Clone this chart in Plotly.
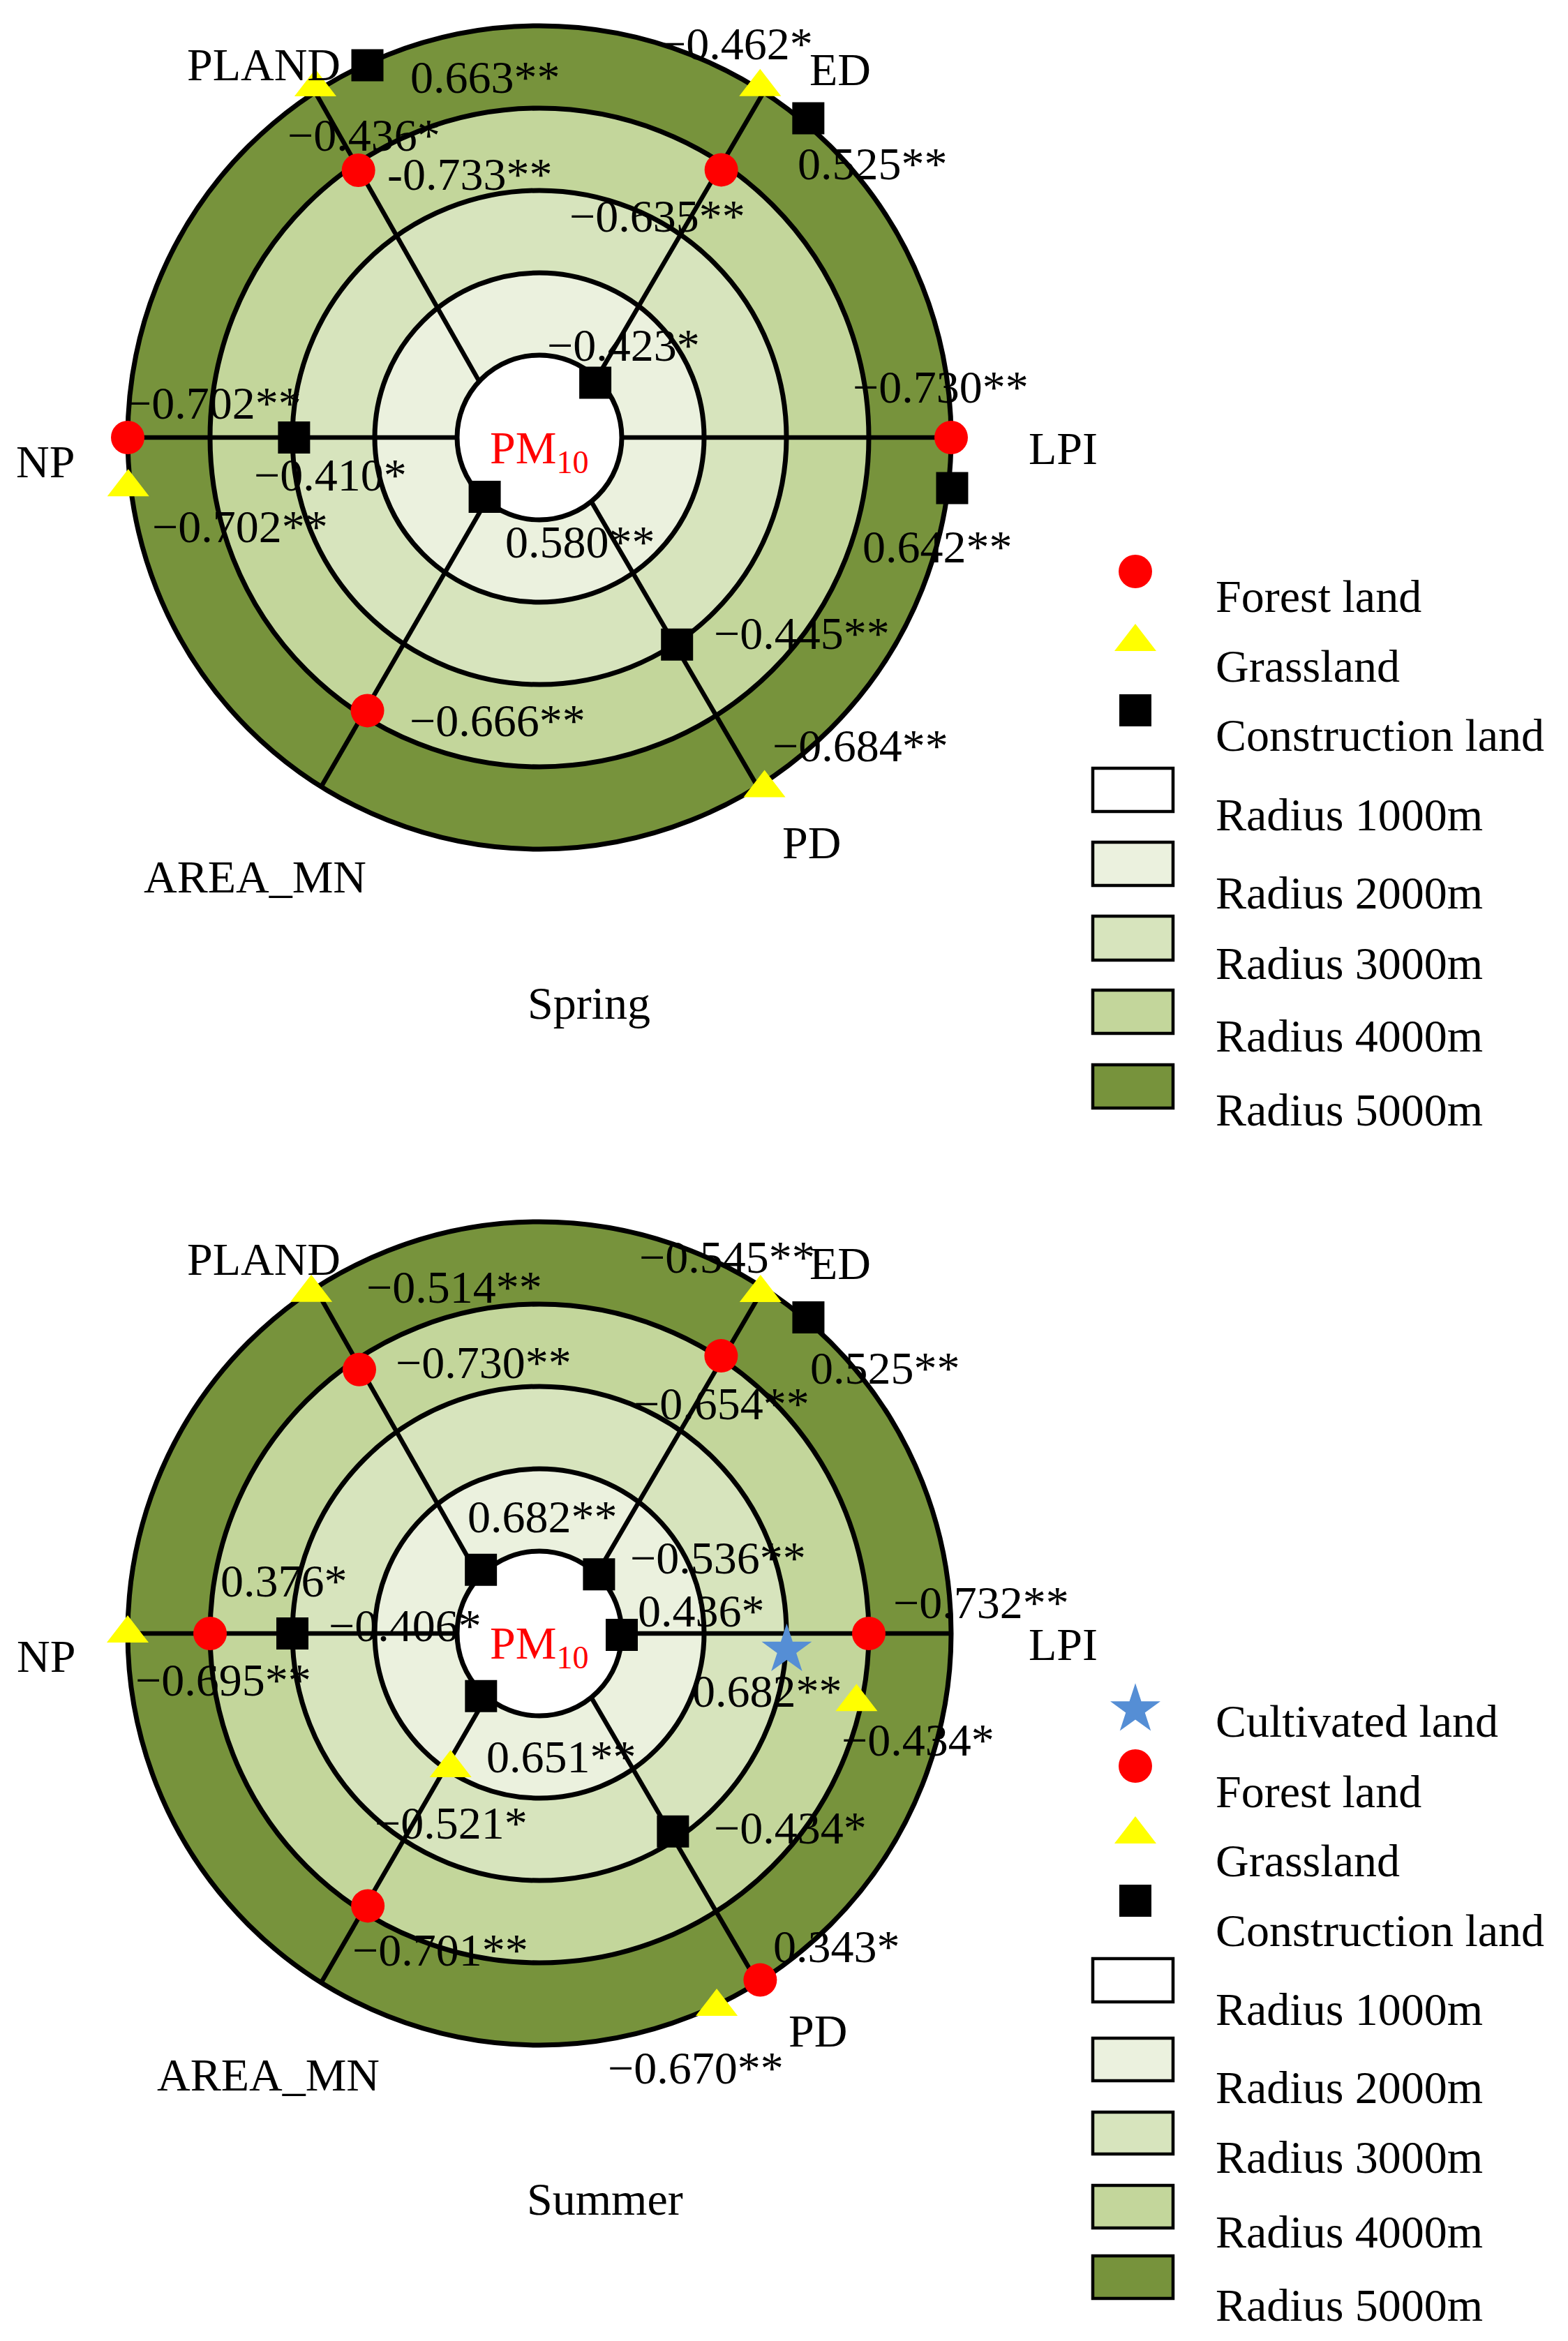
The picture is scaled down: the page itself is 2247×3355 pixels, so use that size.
import plotly.graph_objects as go

# ---- data ----
ring_radius = [5, 4, 3, 2, 1]
ring_names = ['Radius 5000m', 'Radius 4000m', 'Radius 3000m', 'Radius 2000m', 'Radius 1000m']
ring_colors = ['#77933C', '#C3D69B', '#D7E4BD', '#EBF1DE', '#FFFFFF']

# spokes: angle where each spoke leaves ring 1 and where it reaches ring 5
spoke_inner = [0, 46, 137, 180, 230, 309]
spoke_outer = [0, 57, 123, 180, 238, 302]

# Spring
spring_forest_r = [5.0, 3.92, 3.93, 5.0, 3.92]
spring_forest_theta = [180, 124.1, 55.8, 0, 237.8]
spring_grass_r = [5.05, 5.03, 5.03, 5.06]
spring_grass_theta = [122.6, 57.8, 186.9, 302.7]
spring_build_r = [4.98, 5.07, 0.95, 2.98, 0.98, 5.05, 3.02]
spring_build_theta = [114.8, 49.9, 44.4, 180, 227.3, 353.0, 303.6]

spring_labels = ['PLAND', '0.663**', '−0.436*', '-0.733**', '−0.702**', '−0.423*',
                 '−0.462*', 'ED', '0.525**', '−0.635**', '−0.730**', 'NP', '−0.410*',
                 '−0.702**', '−0.666**', 'AREA_MN', '0.580**', 'LPI', '0.642**',
                 '−0.445**', '−0.684**', 'PD']

# Summer
summer_cult_r = [3.01]
summer_cult_theta = [356.2]
summer_forest_r = [3.88, 4.03, 4.0, 4.0, 3.91, 4.99]
summer_forest_theta = [124.3, 56.8, 180, 0, 237.8, 302.5]
summer_grass_r = [4.98, 4.93, 5.0, 1.96, 3.94, 5.02]
summer_grass_theta = [123.8, 57.0, 180, 236.6, 347.8, 295.4]
summer_build_r = [5.04, 1.02, 1.05, 1.0, 3.0, 1.04, 2.90]
summer_build_theta = [49.6, 44.8, 132.6, 359, 180, 227.0, 304.0]

summer_labels = ['PLAND', '−0.514**', '−0.730**', '0.682**', '0.376*', '−0.406*',
                 '−0.545**', 'ED', '0.525**', '−0.654**', '−0.536**', '0.436*',
                 '−0.732**', 'NP', '−0.695**', '−0.521*', '−0.701**', 'AREA_MN',
                 '0.651**', '0.682**', '−0.434*', '−0.434*', '0.343*', 'PD',
                 '−0.670**', 'LPI']

# ---- label placement (page pixels) ----
spring_label_xy = [(378, 92), (695, 110), (521, 193), (673, 249), (306, 577), (893, 494),
                   (1055, 62), (1204, 99), (1250, 234), (942, 309), (1348, 554), (65, 661),
                   (473, 680), (344, 754), (713, 1032), (365, 1256), (831, 776),
                   (1523, 642), (1343, 783), (1149, 907), (1233, 1068), (1163, 1207)]
summer_label_xy = [(378, 1804), (651, 1844), (693, 1952), (777, 2173), (407, 2265),
                   (580, 2329), (1042, 1801), (1204, 1810), (1268, 1960), (1034, 2011),
                   (1029, 2232), (1005, 2308), (1406, 2296), (66, 2373), (320, 2407),
                   (646, 2612), (631, 2794), (384, 2973), (804, 2517), (1099, 2423),
                   (1315, 2493), (1132, 2619), (1199, 2789), (1172, 2910), (997, 2963),
                   (1523, 2356)]

# ---- styles ----
FONT = 'Liberation Serif, Times New Roman, serif'
FS = 66
OFF = 8               # page body margin
W, H = 2247 - 2 * OFF, 3355 - 2 * OFF

land_style = {
    'Cultivated land': dict(symbol='star', color='#558ED5', size=54),
    'Forest land': dict(symbol='circle', color='#FF0000', size=48),
    'Grassland': dict(symbol='triangle-up', color='#FFFF00', size=52),
    'Construction land': dict(symbol='square', color='#000000', size=46),
}


def px(v):
    return v - OFF


fig = go.Figure()
annotations = []


def add_chart(subplot, series, labels, label_xy, pm_xy):
    # concentric rings, biggest first
    for r, name, col in zip(ring_radius, ring_names, ring_colors):
        fig.add_trace(go.Barpolar(
            r=[r], theta=[0], width=[360], name=name, subplot=subplot,
            marker=dict(color=col, line=dict(color='black', width=7)),
            hoverinfo='skip', showlegend=False))
    # spokes
    for ti, to in zip(spoke_inner, spoke_outer):
        fig.add_trace(go.Scatterpolar(
            r=[1, 5], theta=[ti, to], mode='lines', subplot=subplot,
            line=dict(color='black', width=6.5), hoverinfo='skip',
            showlegend=False, cliponaxis=False))
    # land-use markers
    for name, (r, th) in series.items():
        st = land_style[name]
        fig.add_trace(go.Scatterpolar(
            r=r, theta=th, mode='markers', name=name, subplot=subplot,
            marker=dict(symbol=st['symbol'], color=st['color'], size=st['size'],
                        line=dict(width=0)),
            hoverinfo='skip', showlegend=False, cliponaxis=False))
    # correlation values and index names
    for txt, (x, y) in zip(labels, label_xy):
        annotations.append(dict(x=px(x), y=px(y), xref='x', yref='y', text=txt,
                                showarrow=False, xanchor='center', yanchor='middle',
                                font=dict(family=FONT, size=FS, color='black')))
    annotations.append(dict(x=px(pm_xy[0]), y=px(pm_xy[1]), xref='x', yref='y',
                            text='PM<sub>10</sub>', showarrow=False,
                            xanchor='center', yanchor='middle',
                            font=dict(family=FONT, size=FS, color='#FF0000')))


add_chart('polar',
          {'Forest land': (spring_forest_r, spring_forest_theta),
           'Grassland': (spring_grass_r, spring_grass_theta),
           'Construction land': (spring_build_r, spring_build_theta)},
          spring_labels, spring_label_xy, (773, 646))

add_chart('polar2',
          {'Cultivated land': (summer_cult_r, summer_cult_theta),
           'Forest land': (summer_forest_r, summer_forest_theta),
           'Grassland': (summer_grass_r, summer_grass_theta),
           'Construction land': (summer_build_r, summer_build_theta)},
          summer_labels, summer_label_xy, (773, 2359))

# ---- hand drawn legends on a pixel-sized hidden axis ----
legend_x_sym = 1627
legend_x_text = 1740
legend_rect_x = (1566, 1681)

spring_legend = dict(
    lands=['Forest land', 'Grassland', 'Construction land'],
    sym_y=[819, 920, 1018], text_y=[854, 954, 1053],
    rect_y=[(1101, 1163), (1207, 1269), (1313, 1376), (1419, 1481), (1526, 1588)],
    rect_text_y=[1167, 1279, 1380, 1484, 1590])
summer_legend = dict(
    lands=['Cultivated land', 'Forest land', 'Grassland', 'Construction land'],
    sym_y=[2450, 2531, 2629, 2724], text_y=[2466, 2567, 2666, 2766],
    rect_y=[(2807, 2869), (2921, 2982), (3027, 3087), (3132, 3193), (3233, 3294)],
    rect_text_y=[2879, 2991, 3091, 3198, 3303])

shapes = []
for leg in [spring_legend, summer_legend]:
    for land, sy, ty in zip(leg['lands'], leg['sym_y'], leg['text_y']):
        st = land_style[land]
        fig.add_trace(go.Scatter(
            x=[px(legend_x_sym)], y=[px(sy)], mode='markers', xaxis='x', yaxis='y',
            marker=dict(symbol=st['symbol'], color=st['color'], size=st['size'],
                        line=dict(width=0)),
            hoverinfo='skip', showlegend=False, cliponaxis=False))
        annotations.append(dict(x=px(legend_x_text), y=px(ty), xref='x', yref='y',
                                text=land, showarrow=False, xanchor='left',
                                yanchor='middle',
                                font=dict(family=FONT, size=FS, color='black')))
    # radius swatches, smallest radius first
    for (y0, y1), ty, name, col in zip(leg['rect_y'], leg['rect_text_y'],
                                       ring_names[::-1], ring_colors[::-1]):
        shapes.append(dict(type='rect', xref='x', yref='y',
                           x0=px(legend_rect_x[0]), x1=px(legend_rect_x[1]),
                           y0=px(y0), y1=px(y1),
                           fillcolor=col, line=dict(color='black', width=4.5)))
        annotations.append(dict(x=px(legend_x_text), y=px(ty), xref='x', yref='y',
                                text=name, showarrow=False, xanchor='left',
                                yanchor='middle',
                                font=dict(family=FONT, size=FS, color='black')))

# season titles
for name, x, y in [('Spring', 844, 1437), ('Summer', 867, 3151)]:
    annotations.append(dict(x=px(x), y=px(y), xref='x', yref='y', text=name,
                            showarrow=False, xanchor='center', yanchor='middle',
                            font=dict(family=FONT, size=FS, color='black')))

# polar placement: centres (773, 627) and (773, 2341), ring 5 at 590 px
RMAX = 5.1
R = 590 * RMAX / 5
cx = px(773)


def polar_domain(cy):
    cy = px(cy)
    return dict(x=[(cx - R) / W, (cx + R) / W],
                y=[(H - cy - R) / H, (H - cy + R) / H])


polar_common = dict(
    bgcolor='rgba(0,0,0,0)', barmode='overlay',
    radialaxis=dict(visible=False, range=[0, RMAX]),
    angularaxis=dict(visible=False, rotation=0, direction='counterclockwise'),
)
fig.update_layout(
    width=W, height=H,
    margin=dict(l=0, r=0, t=0, b=0),
    paper_bgcolor='white', plot_bgcolor='rgba(0,0,0,0)',
    showlegend=False,
    polar=dict(domain=polar_domain(627), **polar_common),
    polar2=dict(domain=polar_domain(2341), **polar_common),
    xaxis=dict(range=[0, W], visible=False, domain=[0, 1], fixedrange=True),
    yaxis=dict(range=[H, 0], visible=False, domain=[0, 1], fixedrange=True),
    shapes=shapes,
    annotations=annotations,
)

fig.write_html("out.html")
